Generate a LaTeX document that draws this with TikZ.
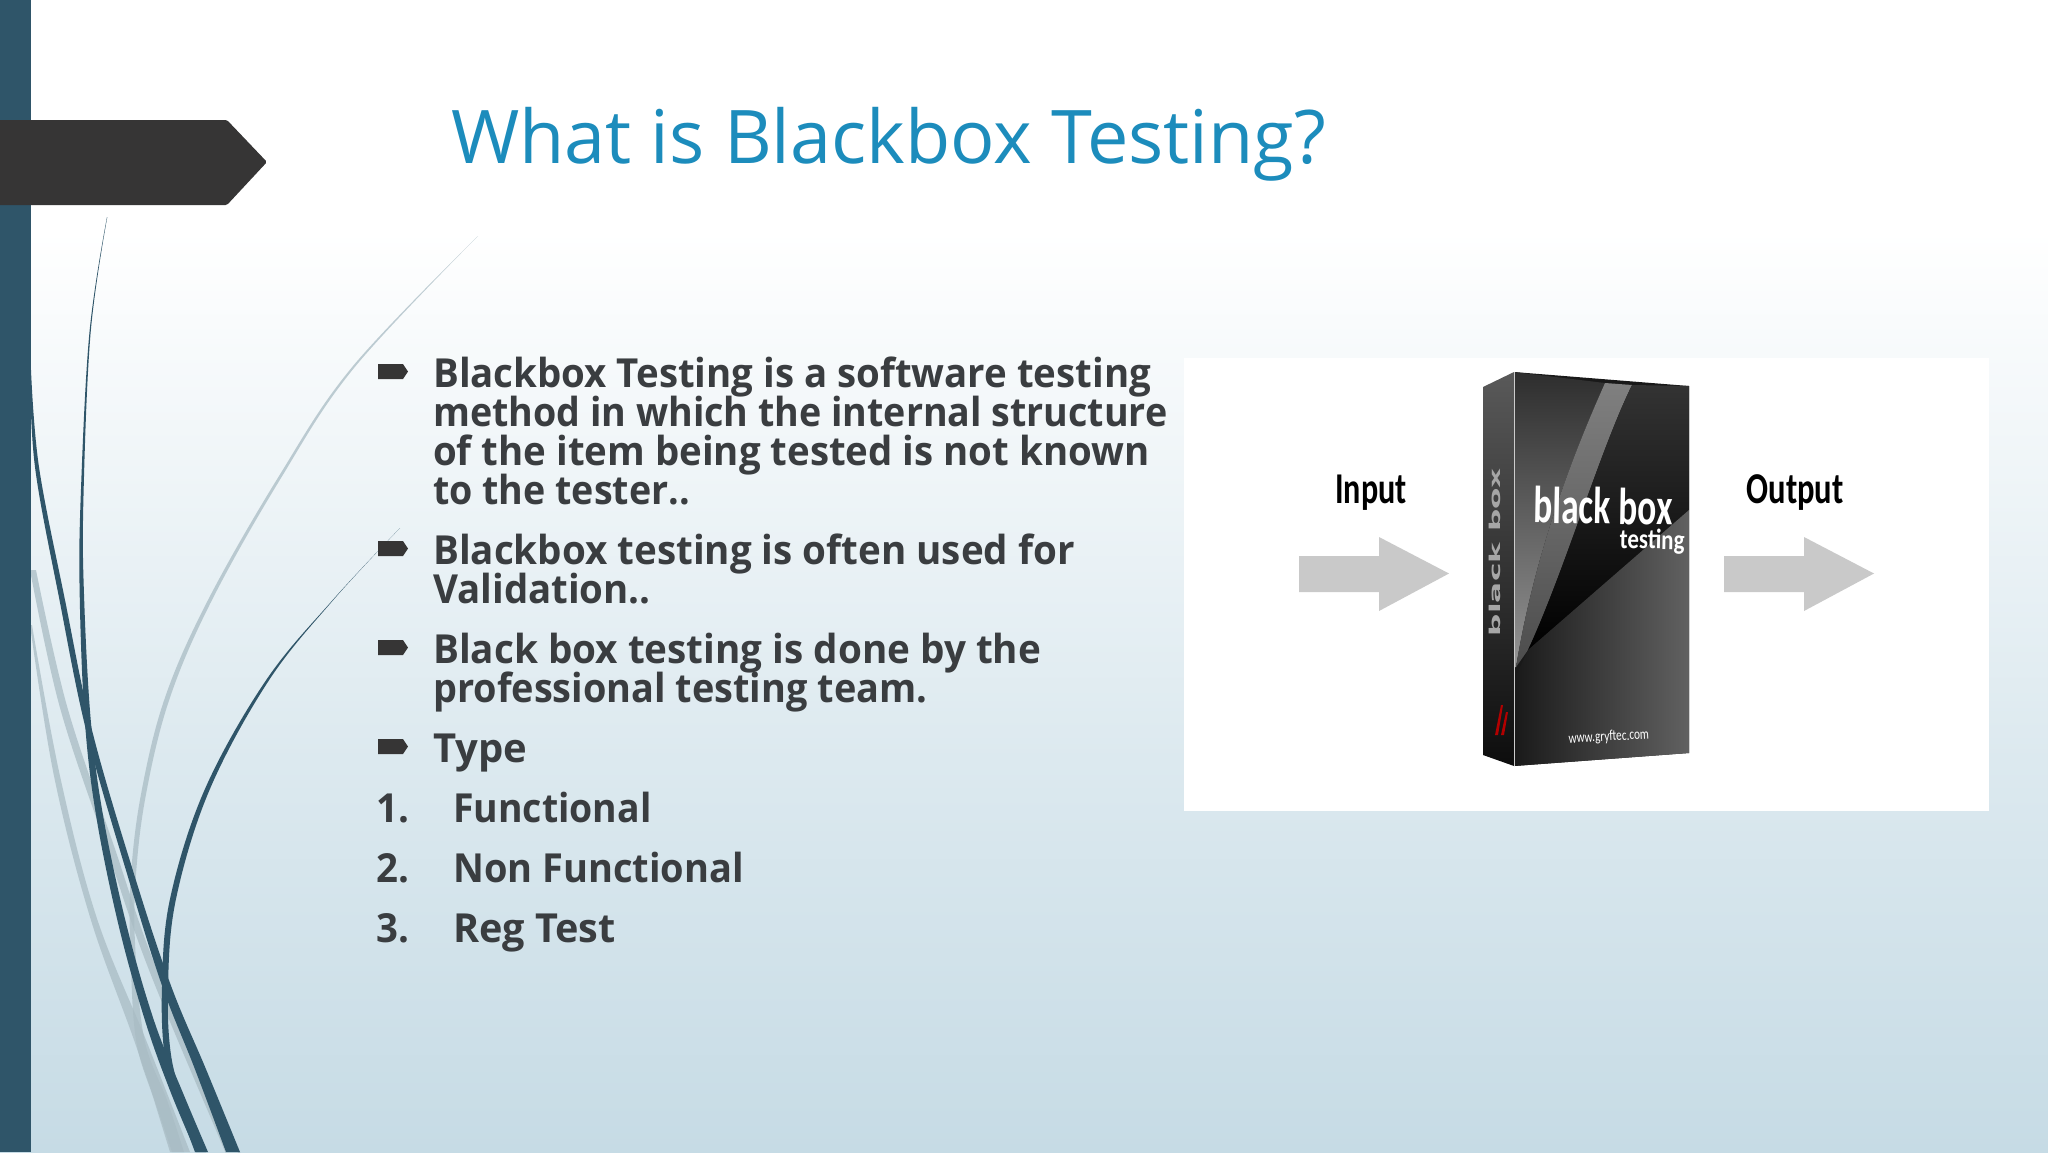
\documentclass[tikz,border=0pt]{standalone}
\usepackage{fontspec}
\usepackage{graphicx}
\setmainfont{Open Sans}
\newfontfamily\boxfont{Carlito}
\newfontfamily\spinefont{DejaVu Sans}
\definecolor{barblue}{HTML}{2F5569}
\definecolor{darkshape}{HTML}{363535}
\definecolor{titleblue}{HTML}{1C8CBC}
\definecolor{bodytext}{HTML}{3A3D40}
\definecolor{pale}{HTML}{A9BCC4}
\definecolor{arrowgrey}{HTML}{C9C9C9}
\definecolor{bgbot}{HTML}{C6DBE5}
\definecolor{bgmid}{HTML}{DCE9EF}
\pgfdeclareverticalshading{slidebg}{100bp}{color(0bp)=(bgbot); color(25bp)=(bgbot); color(42bp)=(bgmid); color(65bp)=(white); color(100bp)=(white)}
\tikzset{
  x=1pt,y=-1pt,
  swoosh/.style={fill=barblue},
  paleswoosh/.style={fill=pale,fill opacity=.75},
  line/.style={anchor=base west,inner sep=0pt,xscale=#1,text=bodytext,font=\fontsize{40}{48}\selectfont\bfseries},
  line/.default=.96,
  bulletmark/.style={fill=darkshape},
  blockarrow/.style={fill=arrowgrey},
  boxlabel/.style={inner sep=0pt,anchor=base,text=white},
  arrowlabel/.style={inner sep=0pt,anchor=base,text=black,font=\boxfont\fontsize{44}{50}\selectfont\bfseries}
}
\newcommand{\swooshshape}[3]{\path[#1] plot[smooth,tension=.6] coordinates {#2} -- plot[smooth,tension=.6] coordinates {#3} -- cycle;}
\newcommand{\bulletat}[1]{\path[bulletmark] (378,#1-7.5) -- (403,#1-7.5) -- (408,#1) -- (403,#1+7.5) -- (378,#1+7.5) -- cycle;}
\newcommand{\blockat}[1]{\path[blockarrow] (#1,556) -- (#1+80,556) -- (#1+80,537) -- (#1+150,573.5) -- (#1+80,611) -- (#1+80,592) -- (#1,592) -- cycle;}
\begin{document}
\begin{tikzpicture}
\useasboundingbox (0,0) rectangle (2048,1152);
\shade[shading=slidebg] (0,0) rectangle (2048,1152);
\begin{scope}
\clip (0,0) rectangle (2048,1152);
% pale swooshes
\swooshshape{paleswoosh}{(478,236) (353,366) (279,476) (208,600) (164.5,699) (140.5,797) (130.5,882) (130.5,952) (136,1040) (154,1100) (170,1152)}{(184,1152) (167,1100) (144.5,1040) (135.5,952) (135.5,882) (145.5,797) (169.5,699) (212,600) (281,478) (354,368) (478,236)}
\swooshshape{paleswoosh}{(30,570) (59.5,706) (106,846) (149,970) (221,1142) (225,1152)}{(240,1152) (233,1142) (157,970) (114,846) (67,706) (36,570)}
\swooshshape{paleswoosh}{(30,625) (54,776) (90,917) (134,1040) (172,1152)}{(190,1152) (146,1040) (96.5,917) (60,776) (32,625)}
% dark swooshes
\swooshshape{swoosh}{(107,217) (89.4,333) (80.6,500) (79.8,600) (85,723) (96.5,818) (119,927) (145.5,1022) (171,1093) (196,1152)}{(208,1152) (183,1093) (154.5,1022) (127,927) (103.5,818) (91,723) (84.2,600) (83.4,500) (90.6,333) (107.3,217)}
\swooshshape{swoosh}{(30,370) (35,467) (59.5,600) (87,734) (129.5,882) (162.5,987) (194.5,1068) (226,1152)}{(240,1152) (205.5,1068) (171.5,987) (136.5,882) (93,734) (65,600) (39,467) (31,370)}
\swooshshape{swoosh}{(400,528) (332.7,600) (265.5,681) (204.5,790) (170,899) (162,987) (165,1058) (180,1110) (195,1152)}{(206,1152) (187.5,1110) (171.5,1058) (168,987) (176,899) (209.5,790) (268.5,681) (333.3,600) (400,528)}
\end{scope}
% side bar and banner
\fill[barblue] (0,0) rectangle (31,1152);
\fill[darkshape,rounded corners=1.5pt] (-5,120) -- (227,120) -- (267,162) -- (227,205) -- (-5,205) -- cycle;
% title
\node[anchor=base west,inner sep=0pt,text=titleblue,font=\fontsize{74}{88}\selectfont,xscale=.997] (title) at (451,163) {What is Blackbox Testing?};
% body text
\bulletat{371.5}
\bulletat{548.5}
\bulletat{647.5}
\bulletat{746.5}
\node[line] (l1) at (433,387) {Blackbox Testing is a software testing};
\node[line=.94] (l2) at (433,426) {method in which the internal structure};
\node[line] (l3) at (433,465) {of the item being tested is not known};
\node[line=.94] (l4) at (433,504) {to the tester..};
\node[line=.964] (l5) at (433,564) {Blackbox testing is often used for};
\node[line] (l6) at (433,603) {Validation..};
\node[line=.966] (l7) at (433,663) {Black box testing is done by the};
\node[line=.947] (l8) at (433,702) {professional testing team.};
\node[line=1] (l9) at (433,762) {Type};
\node[line] (n1) at (376,822) {1.};
\node[line=.935] (t1) at (453,822) {Functional};
\node[line=.95] (t2) at (453,882) {Non Functional};
\node[line] (n2) at (376,882) {2.};
\node[line] (n3) at (376,942) {3.};
\node[line=.99] (t3) at (453,942) {Reg Test};
% picture panel
\fill[white] (1184,358) rectangle (1989,811);
\blockat{1299}
\blockat{1724}
\node[arrowlabel,xscale=.73] (input) at (1371,503) {Input};
\node[arrowlabel,xscale=.74] (output) at (1795,503) {Output};
% box
\shade[top color=black!65,bottom color=black!95] (1483,387) -- (1514,372) -- (1514,766) -- (1483,755) -- cycle;
\begin{scope}
\clip (1514,372) -- (1689,386) -- (1689,753) -- (1514,766) -- cycle;
\fill[black!90] (1510,365) rectangle (1695,770);
\shade[top color=black!82,bottom color=black!42] (1514,372) -- (1605,383) .. controls (1575,450) and (1535,550) .. (1516,667) -- (1514,667) -- cycle;
\shade[top color=black!50,bottom color=black!70] (1605,383) -- (1632,385) .. controls (1600,450) and (1565,570) .. (1528,650) -- (1516,667) .. controls (1535,550) and (1575,450) .. (1605,383) -- cycle;
\shade[top color=black!80,bottom color=black] (1632,385) -- (1689,386) -- (1689,510) -- (1528,650) .. controls (1565,570) and (1600,450) .. (1632,385) -- cycle;
\shade[left color=black!90,right color=black!62] (1528,650) -- (1689,510) -- (1689,753) -- (1514,766) -- (1514,680) -- cycle;
\end{scope}
\draw[white!80!black,line width=.8pt] (1514,372) -- (1514,766);
\fill[red!70!black] (1495,735) -- (1501,705) -- (1503,705) -- (1498,735) -- cycle;
\fill[red!70!black] (1501,735) -- (1506,712) -- (1508,712) -- (1504,735) -- cycle;
\node[boxlabel,rotate=90,text=black!35,font=\spinefont\fontsize{15}{18}\selectfont\bfseries] (spine) at (1500,552) {\scalebox{2.08}[1]{black box}};
\node[boxlabel,rotate=-1,xscale=.68,font=\boxfont\fontsize{52}{60}\selectfont\bfseries] (bbox) at (1603,524) {black box};
\node[boxlabel,rotate=-1,xscale=.82,font=\boxfont\fontsize{28}{32}\selectfont\bfseries] (testing) at (1652,549) {testing};
\node[boxlabel,rotate=3,xscale=.75,font=\boxfont\fontsize{15}{18}\selectfont] (site) at (1609,741) {www.gryftec.com};
\end{tikzpicture}
\end{document}
